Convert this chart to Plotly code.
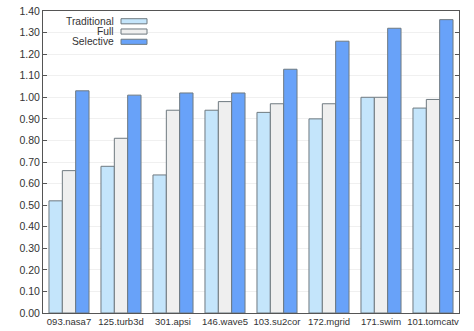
import plotly.graph_objects as go

categories = ["093.nasa7", "125.turb3d", "301.apsi", "146.wave5",
              "103.su2cor", "172.mgrid", "171.swim", "101.tomcatv"]
series_names = ["Traditional", "Full", "Selective"]
traditional = [0.52, 0.68, 0.64, 0.94, 0.93, 0.90, 1.00, 0.95]
full = [0.66, 0.81, 0.94, 0.98, 0.97, 0.97, 1.00, 0.99]
selective = [1.03, 1.01, 1.02, 1.02, 1.13, 1.26, 1.32, 1.36]
colors = ["#c4e5fb", "#efefef", "#68a2f9"]
tick_vals = [i / 10 for i in range(15)]
tick_text = ["%.2f" % v for v in tick_vals]

fig = go.Figure()
for name, vals, c in zip(series_names, [traditional, full, selective], colors):
    fig.add_trace(go.Bar(x=categories, y=vals, name=name, marker_color=c,
                         marker_line_color="#6f7a80", marker_line_width=1,
                         showlegend=False))

# manual legend: text right-aligned, swatch to the right
for i, (name, c) in enumerate(zip(series_names, colors)):
    y = 0.966 - i * 0.034
    fig.add_annotation(xref="paper", yref="paper", x=0.174, y=y, text=name,
                       showarrow=False, xanchor="right", yanchor="middle",
                       borderpad=0,
                       font=dict(family="Liberation Sans, Arial", size=10.3, color="#333333"))
    fig.add_shape(type="rect", xref="paper", yref="paper",
                  x0=0.1875, x1=0.25, y0=y - 0.0085, y1=y + 0.0085,
                  fillcolor=c, line=dict(color="#6f7a80", width=1))

fig.update_layout(
    width=474, height=331,
    margin=dict(l=43, r=15, t=11, b=18, autoexpand=False),
    paper_bgcolor="white", plot_bgcolor="white",
    barmode="group", bargap=0.23, bargroupgap=0,
    font=dict(family="Liberation Sans, Arial", size=10.5, color="#333333"),
)
fig.update_xaxes(showline=True, linecolor="#555555", linewidth=1, mirror=True,
                 ticks="", showgrid=False, tickangle=0, automargin=False,
                 tickfont=dict(size=9.5))
fig.update_yaxes(range=[0, 1.40], tickvals=tick_vals, ticktext=tick_text,
                 showline=True, linecolor="#555555", linewidth=1, mirror="ticks",
                 ticks="inside", ticklen=4, tickcolor="#555555", automargin=False,
                 showgrid=True, gridcolor="#f0f0f0", gridwidth=1, zeroline=False)

fig.write_html("out.html")
